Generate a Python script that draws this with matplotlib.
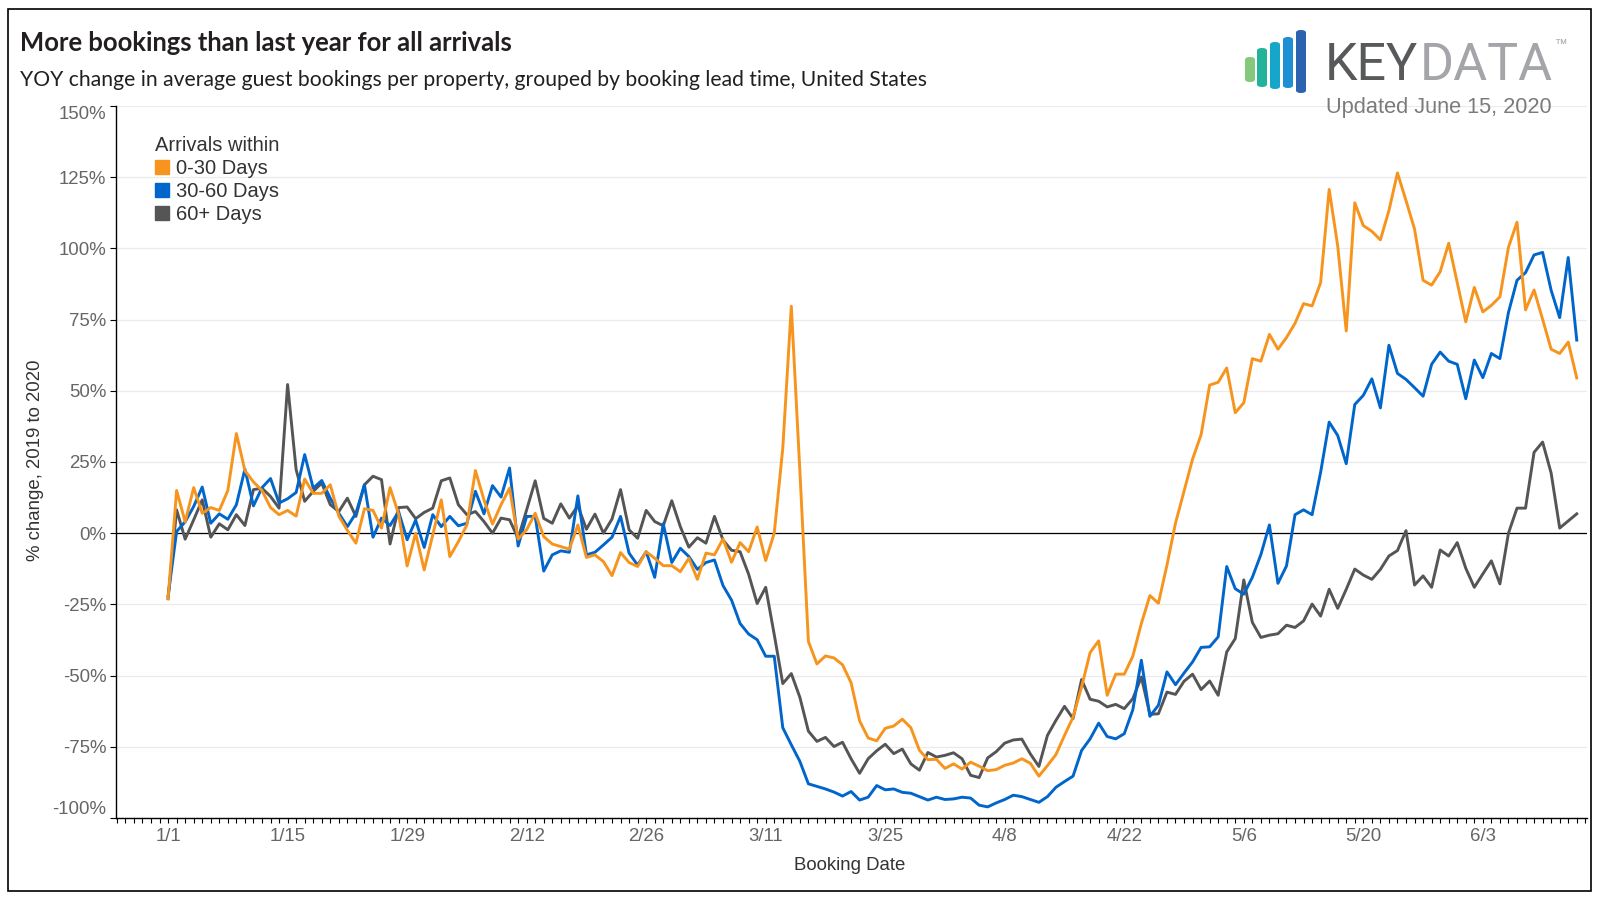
import matplotlib
matplotlib.use("Agg")
import matplotlib.pyplot as plt
import matplotlib.dates as mdates
from matplotlib.lines import Line2D
from matplotlib.patches import Rectangle, FancyBboxPatch
import pandas as pd

# YOY % change, one value per booking date starting 2020-01-01
orange = [-23, 15, 4, 16, 7, 9, 8, 15, 35, 22,
          18, 15, 9, 6.5, 8, 6, 19, 14, 14, 17,
          6, 1, -3.5, 8.6, 8, 1.8, 16, 6.7, -11.5, 0,
          -12.9, -0.6, 11.7, -8.2, -3, 2.9, 22, 11.7, 3.2, 10,
          15.8, -2.1, 1.2, 7, -1.2, -3.8, -4.7, -5.6, 2.9, -8.5,
          -7.6, -10, -14.9, -6.8, -10.3, -11.7, -6.5, -8.8, -11.4, -11.4,
          -13.5, -8.8, -16.2, -7, -7.6, -2, -10.2, -3.3, -6.5, 2.2,
          -9.6, 0, 29.8, 79.7, 22, -38, -45.9, -43.1, -43.8, -46.2,
          -52.5, -65.9, -71.9, -72.9, -68.5, -67.7, -65.3, -68.3, -76.2, -79.5,
          -79.4, -82.6, -81, -82.8, -80.4, -81.8, -83.4, -83, -81.5, -80.7,
          -79.2, -80.8, -85.3, -81.6, -77.7, -71, -64.6, -54, -41.9, -37.8,
          -56.9, -49.5, -49.5, -43.2, -31.7, -21.9, -24.6, -11.2, 3.5, 14.7,
          26, 34.6, 52, 53, 58, 42.3, 45.8, 61.3, 60.4, 69.8,
          64.6, 68.7, 73.7, 80.6, 79.8, 88, 120.7, 100.9, 71, 116,
          108, 106, 103, 113.3, 126.5, 116.8, 106.8, 88.8, 87.1, 91.8,
          101.8, 88, 74.2, 86.3, 77.7, 80, 83, 100.4, 109.2, 78.4,
          85.4, 75.1, 64.6, 63.1, 67.1, 54.5]

blue = [-22, 0.6, 4, 9.4, 16.2, 3.5, 6.8, 4.9, 10, 22.5,
        9.6, 16, 19.2, 10.6, 12.1, 14.3, 27.6, 15.8, 18.5, 12.3,
        7, 2.3, 7, 17, -1.4, 5.3, 2.7, 7.6, -2.3, 4.6,
        -5, 6.5, 2.3, 5.9, 2.6, 3.5, 14.7, 6.8, 16.7, 12.7,
        22.9, -4.5, 5.9, 5.9, -13.3, -7.6, -6.2, -6.7, 13.1, -7.6,
        -6.7, -4.1, -1.4, 5.9, -7, -11.2, -6.5, -15.5, 3.3, -10.3,
        -5.3, -8.2, -12.7, -10.3, -9.4, -18.4, -23.5, -31.7, -35.4, -37.4,
        -43.2, -43.2, -68.3, -74.3, -80.1, -88, -88.9, -89.8, -90.9, -92.3,
        -90.7, -93.7, -92.7, -88.6, -90.1, -89.8, -91, -91.3, -92.5, -93.7,
        -92.7, -93.5, -93.3, -92.7, -93, -95.5, -96.1, -94.7, -93.5, -92,
        -92.5, -93.5, -94.5, -92.5, -89.2, -87.2, -85.3, -76.3, -72.2, -66.7,
        -71.4, -72.2, -70.4, -62, -44.6, -64.3, -60.4, -48.7, -53.2, -49.1,
        -45.2, -40.1, -39.9, -36.4, -11.7, -19.5, -21.4, -15.5, -7.5, 2.9,
        -17.6, -11.5, 6.5, 8.2, 6.5, 21.4, 39, 34.3, 24.4, 45.2,
        48.4, 54.2, 44, 66, 56.1, 54, 51.1, 48.1, 59.3, 63.6,
        60.4, 59.3, 47.2, 60.8, 54.6, 63.1, 61.3, 77.5, 88.8, 91.5,
        97.7, 98.6, 85.3, 75.7, 96.8, 67.8]

grey = [-23, 8.2, -2.1, 4.7, 11.7, -1.4, 3.3, 1.2, 6.5, 2.7,
        15.3, 15.8, 12.9, 8.8, 52.2, 22.3, 11.2, 14.7, 17.6, 10,
        7.6, 12.3, 5.9, 17, 20, 18.8, -3.8, 9, 9.2, 5.1,
        7.3, 8.8, 18.4, 19.4, 10, 6.5, 7.6, 4.1, 0, 5.3,
        4.7, -1.8, 8.2, 18.4, 5.2, 3.5, 10.3, 5.3, 9.6, 1.4,
        6.7, 0, 5, 15.3, 1.2, -1.8, 8, 4.1, 2.6, 11.4,
        2.3, -4.9, -1.6, -3.5, 5.9, -2.4, -6, -6.5, -14.4, -24.7,
        -19, -35.6, -52.8, -49.3, -57.6, -69.5, -73.1, -71.7, -74.9, -73.4,
        -79.2, -84.3, -79.2, -76.4, -74.1, -77.4, -75.8, -81, -83.2, -77,
        -78.6, -78, -77.1, -79.2, -85, -85.8, -78.9, -76.7, -73.7, -72.6,
        -72.3, -77.5, -81.9, -71, -65.7, -60.8, -65.1, -51.4, -58.3, -59,
        -61, -60.1, -61.6, -58.1, -50.5, -63.6, -63.4, -55.8, -56.6, -52,
        -49.5, -54.9, -51.9, -56.9, -41.7, -37, -16.4, -31.3, -36.6, -35.8,
        -35.3, -32.3, -33.1, -30.8, -24.9, -29.1, -19.7, -26.4, -19.7, -12.6,
        -14.7, -16.2, -12.7, -8, -6.1, 0.9, -18.2, -15, -19, -5.9,
        -8, -3.3, -12.3, -19, -14.3, -9.7, -17.8, 0, 8.8, 8.8,
        28.4, 32, 21.1, 1.8, 4.3, 6.8]

names = ["0-30 Days", "30-60 Days", "60+ Days"]
colors = ["#f7941d", "#0066cc", "#555555"]
dates = pd.date_range("2020-01-01", periods=len(orange), freq="D")
tick_dates = dates[::14]
yticks = list(range(-100, 151, 25))

plt.rcParams["font.family"] = ["Liberation Sans", "DejaVu Sans"]

W, H = 1600, 900


def fx(x):
    return x / W


def fy(y):
    return 1 - y / H


fig = plt.figure(figsize=(16, 9), dpi=100)
ax = fig.add_axes([fx(116), fy(818), fx(1587) - fx(116), fy(106) - fy(818)])

for vals, name, c, z in zip([orange, blue, grey], names, colors, [4, 3, 2]):
    ax.plot(dates, vals, color=c, lw=2.1, label=name, zorder=z)

ax.axhline(0, color="black", lw=0.9, zorder=1.5)
ax.set_ylim(-100, 150)
start = mdates.date2num(dates[0])
ax.set_xlim(start - 6.1, start + 166.2)

ax.set_xticks(tick_dates)
ax.set_xticklabels([f"{d.month}/{d.day}" for d in tick_dates])
ax.xaxis.set_minor_locator(mdates.DayLocator())
ax.tick_params(axis="x", which="both", length=3.5, width=0.8, color="black",
               labelsize=13.4, labelcolor="#666666", pad=4)

ax.set_yticks(yticks)
ylabels = ax.set_yticklabels([f"{v}%" for v in yticks])
ylabels[0].set_va("bottom")
ylabels[-1].set_va("top")
ax.tick_params(axis="y", length=4, width=0.8, color="black",
               labelsize=13.4, labelcolor="#666666", pad=3)

ax.set_axisbelow(True)
ax.yaxis.grid(True, color="#ebebeb", lw=0.9)
for s in ["top", "right"]:
    ax.spines[s].set_visible(False)
for s in ["left", "bottom"]:
    ax.spines[s].set_linewidth(1.0)

ax.set_xlabel("Booking Date", fontsize=13.4, color="#333333")
ax.set_ylabel("% change, 2019 to 2020", fontsize=13.4, color="#333333")
ax.xaxis.label.set_va("center")
ax.yaxis.label.set_va("center")
ax.xaxis.set_label_coords((850 - 116) / 1471, -(866 - 818) / 712)
ax.yaxis.set_label_coords((36 - 116) / 1471, (818 - 460) / 712)

handles = [Line2D([], [], marker="s", ls="none", color=c, markersize=10) for c in colors]
leg = ax.legend(handles, names, title="Arrivals within", loc="upper left",
                bbox_to_anchor=(fx(155), fy(136)), bbox_transform=fig.transFigure,
                frameon=False, fontsize=14.5, title_fontsize=14.5,
                handlelength=0.7, handletextpad=0.35, labelspacing=0.2,
                borderpad=0, borderaxespad=0)
leg._legend_box.align = "left"
for t in leg.get_texts():
    t.set_color("#333333")
leg.get_title().set_color("#333333")

# headings
title = fig.text(fx(20), fy(51), "More bookings than last year for all arrivals",
                 fontfamily="Lato", fontweight="bold", fontsize=18, color="#231f20",
                 va="baseline")
subtitle = fig.text(fx(20), fy(86),
                    "YOY change in average guest bookings per property, grouped by booking lead time, United States",
                    fontfamily="Lato", fontsize=15, color="#231f20", va="baseline")

# logo
bars = [(1245, 57, 82, "#84c87b"), (1257, 48, 87, "#22b39a"), (1270, 42, 89, "#16a6c9"),
        (1283, 37, 88, "#1d8fd2"), (1296, 30, 93, "#2b63b0")]
for x0, top, bot, c in bars:
    fig.add_artist(FancyBboxPatch((fx(x0), fy(bot)), fx(10), fy(top) - fy(bot),
                                  boxstyle="round,pad=0,rounding_size=0.003",
                                  transform=fig.transFigure, fc=c, ec="none"))
key = fig.text(fx(1325), fy(80), "KEY", fontfamily="Roboto", fontsize=40,
               color="#58595b", va="baseline")
data_txt = fig.text(fx(1427), fy(80), "DATA", fontfamily="Roboto", fontsize=40,
                    color="#a3a5a8", va="baseline")
tm = fig.text(fx(1556), fy(48), "™", fontsize=9, color="#a3a5a8", va="baseline")
updated = fig.text(fx(1552), fy(107), "Updated June 15, 2020", fontsize=14,
                   color="#7b7b7b", ha="right", va="center")

fig.add_artist(Rectangle((fx(8), fy(891)), fx(1591) - fx(8), fy(9) - fy(891),
                         transform=fig.transFigure, fill=False, ec="black", lw=1.2))

# size the heading texts to the widths they take in the original
fig.canvas.draw()
r = fig.canvas.get_renderer()


def fit(t, width):
    bb = t.get_window_extent(r)
    t.set_fontsize(t.get_fontsize() * width / bb.width)


fit(title, 493)
fit(subtitle, 905)
fit(updated, 227)
w = key.get_window_extent(r).width + data_txt.get_window_extent(r).width
for t in (key, data_txt):
    t.set_fontsize(t.get_fontsize() * 226 / w)
fig.canvas.draw()
kb = key.get_window_extent(r)
data_txt.set_x(kb.x1 / W + fx(1))
db = data_txt.get_window_extent(r)
tm.set_x(db.x1 / W + fx(2))

fig.savefig("out.png", dpi=100)
